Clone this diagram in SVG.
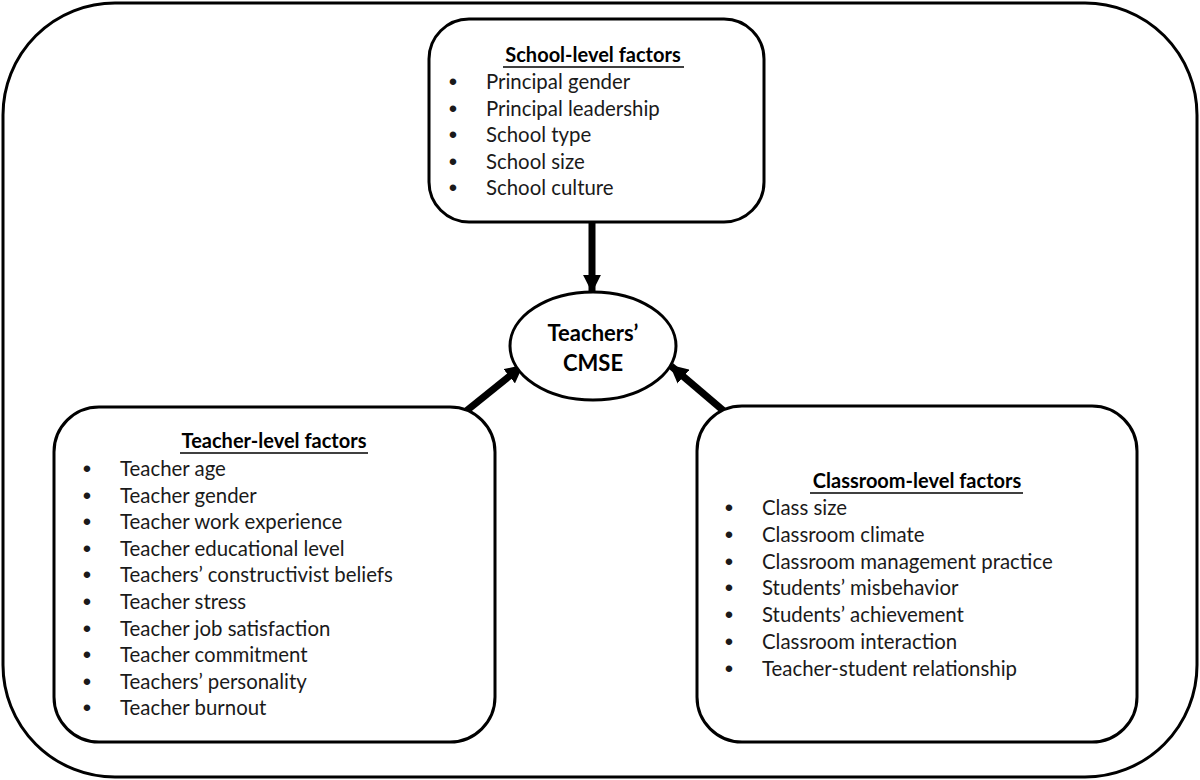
<svg xmlns="http://www.w3.org/2000/svg" width="1200" height="780" viewBox="0 0 1200 780">
<style>
.box{fill:#fff;stroke:#000;stroke-width:3}
.t{font-family:Lato,"Open Sans","Liberation Sans",sans-serif;font-size:20.4px;fill:#1a1a1a}
.b{font-family:"Liberation Sans",sans-serif;font-size:24px;fill:#1a1a1a;text-anchor:middle}
.h{font-family:Lato,"Open Sans","Liberation Sans",sans-serif;font-size:20px;font-weight:bold;fill:#000;text-anchor:middle}
.c{font-family:Lato,"Open Sans","Liberation Sans",sans-serif;font-size:22px;font-weight:bold;fill:#000;text-anchor:middle}
.ul{stroke:#000;stroke-width:1.5}
.conn{stroke:#000;stroke-width:7;fill:none}
</style>
<defs>
<marker id="ah" viewBox="0 0 10 10" refX="9" refY="5" markerWidth="2.6" markerHeight="2.6" orient="auto" markerUnits="strokeWidth">
<path d="M0,0 L10,5 L0,10 z" fill="#000"/>
</marker>
</defs>
<rect x="3" y="3" width="1194" height="774" rx="112" ry="112" fill="#fff" stroke="#000" stroke-width="3"/>
<g id="connectors">
<line class="conn" x1="592" y1="223" x2="592" y2="291" marker-end="url(#ah)"/>
<line class="conn" x1="465" y1="412" x2="522" y2="366" marker-end="url(#ah)"/>
<line class="conn" x1="725" y1="412" x2="671" y2="366" marker-end="url(#ah)"/>
</g>
<g id="school">
<rect class="box" x="429" y="19" width="335" height="203" rx="40" ry="40"/>
<text class="h" x="593" y="62">School-level factors</text>
<line class="ul" x1="503" y1="67" x2="684" y2="67"/>
<g class="b">
<text x="453" y="90">•</text><text x="453" y="116.5">•</text><text x="453" y="143">•</text><text x="453" y="169.5">•</text><text x="453" y="196">•</text>
</g>
<g class="t">
<text x="486" y="89">Principal gender</text>
<text x="486" y="115.5">Principal leadership</text>
<text x="486" y="142">School type</text>
<text x="486" y="168.5">School size</text>
<text x="486" y="195">School culture</text>
</g>
</g>
<g id="cmse">
<ellipse cx="593" cy="346" rx="83" ry="54" fill="#fff" stroke="#000" stroke-width="3"/>
<text class="c" x="593" y="341">Teachers’</text>
<text class="c" x="593" y="371">CMSE</text>
</g>
<g id="teacher">
<rect class="box" x="54" y="407" width="441" height="335" rx="45" ry="45"/>
<text class="h" x="274" y="448">Teacher-level factors</text>
<line class="ul" x1="180" y1="453" x2="368" y2="453"/>
<g class="b">
<text x="87" y="477">•</text><text x="87" y="503.6">•</text><text x="87" y="530.2">•</text><text x="87" y="556.8">•</text><text x="87" y="583.4">•</text><text x="87" y="610">•</text><text x="87" y="636.6">•</text><text x="87" y="663.2">•</text><text x="87" y="689.8">•</text><text x="87" y="716.4">•</text>
</g>
<g class="t">
<text x="120" y="476">Teacher age</text>
<text x="120" y="502.6">Teacher gender</text>
<text x="120" y="529.2">Teacher work experience</text>
<text x="120" y="555.8">Teacher educational level</text>
<text x="120" y="582.4">Teachers’ constructivist beliefs</text>
<text x="120" y="609">Teacher stress</text>
<text x="120" y="635.6">Teacher job satisfaction</text>
<text x="120" y="662.2">Teacher commitment</text>
<text x="120" y="688.8">Teachers’ personality</text>
<text x="120" y="715.4">Teacher burnout</text>
</g>
</g>
<g id="classroom">
<rect class="box" x="697" y="406" width="440" height="336" rx="45" ry="45"/>
<text class="h" x="917" y="488">Classroom-level factors</text>
<line class="ul" x1="810" y1="493" x2="1023" y2="493"/>
<g class="b">
<text x="729" y="516">•</text><text x="729" y="542.8">•</text><text x="729" y="569.6">•</text><text x="729" y="596.4">•</text><text x="729" y="623.2">•</text><text x="729" y="650">•</text><text x="729" y="676.8">•</text>
</g>
<g class="t">
<text x="762" y="515">Class size</text>
<text x="762" y="541.8">Classroom climate</text>
<text x="762" y="568.6">Classroom management practice</text>
<text x="762" y="595.4">Students’ misbehavior</text>
<text x="762" y="622.2">Students’ achievement</text>
<text x="762" y="649">Classroom interaction</text>
<text x="762" y="675.8">Teacher-student relationship</text>
</g>
</g>
</svg>
